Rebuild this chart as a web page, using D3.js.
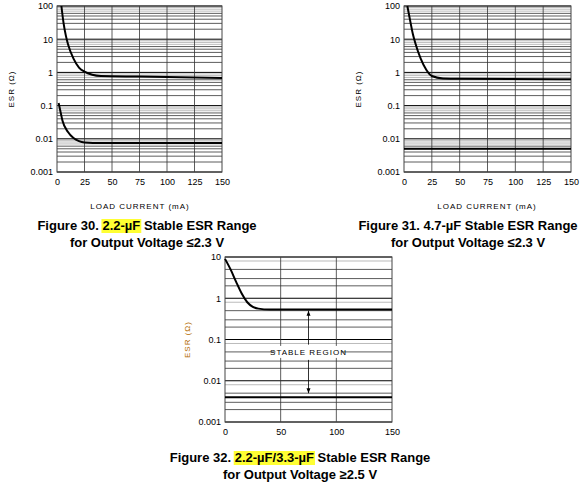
<!DOCTYPE html><html><head><meta charset="utf-8"><script src="https://cdn.jsdelivr.net/npm/d3@7"></script>
<style>body{margin:0;background:#fff}text{font-family:"Liberation Sans",Arial,sans-serif}</style></head><body><svg id="s" width="587" height="482"></svg><script>
const fig30Upper=[[4,100],[6,30],[8,13],[10,7],[15,2.6],[20,1.4],[25,1.05],[32,0.85],[40,0.78],[75,0.75],[150,0.68]];
const fig30Lower=[[1.5,0.12],[3,0.07],[5,0.035],[10,0.016],[15,0.0105],[20,0.0085],[25,0.0078],[40,0.0075],[150,0.0075]];
const fig31Upper=[[3,100],[6,30],[8,14],[10,8],[15,2.6],[20,1.2],[25,0.78],[35,0.66],[50,0.64],[150,0.62]];
const fig31Lower=[[0,0.005],[150,0.005]];
const fig32Upper=[[0,9],[5,5],[10,2.5],[15,1.3],[20,0.8],[25,0.62],[30,0.56],[40,0.53],[150,0.53]];
const fig32Lower=[[0,0.004],[150,0.004]];
const yTicks1=[100,10,1,0.1,0.01,0.001], xTicks1=[0,25,50,75,100,125,150];
const yTicks2=[10,1,0.1,0.01,0.001], xTicks2=[0,50,100,150];
const svg=d3.select("#s");
function chart(o){
 const x=d3.scaleLinear().domain([0,150]).range([o.x0,o.x1]);
 const y=d3.scaleLog().domain([0.001,o.ymax]).range([o.y1,o.y0]);
 const g=svg.append("g");
 const decs=[];for(let d=0.001;d<o.ymax*0.99;d*=10)decs.push(d);
 decs.forEach(d=>o.minor.forEach(m=>{const v=d*m;g.append("line").attr("x1",o.x0).attr("x2",o.x1).attr("y1",y(v)).attr("y2",y(v)).attr("stroke",m>=7?"#aaa":"#333").attr("stroke-width",0.8);}));
 o.yt.forEach(v=>g.append("line").attr("x1",o.x0).attr("x2",o.x1).attr("y1",y(v)).attr("y2",y(v)).attr("stroke","#000").attr("stroke-width",1));
 o.vgrid.forEach(v=>g.append("line").attr("x1",x(v)).attr("x2",x(v)).attr("y1",o.y0).attr("y2",o.y1).attr("stroke","#333").attr("stroke-width",0.8));
 g.append("rect").attr("x",o.x0).attr("y",o.y0).attr("width",o.x1-o.x0).attr("height",o.y1-o.y0).attr("fill","none").attr("stroke","#444");
 const ax=g.append("g").attr("transform",`translate(0,${o.y1})`).call(d3.axisBottom(x).tickValues(o.xt).tickSize(0).tickPadding(7).tickFormat(d3.format("d")));
 ax.select(".domain").remove();ax.selectAll("text").attr("font-size",9).attr("fill","#000");
 const ay=g.append("g").attr("transform",`translate(${o.x0},0)`).call(d3.axisLeft(y).tickValues(o.yt).tickSize(0).tickPadding(4).tickFormat(d=>d>=1?d3.format("d")(d):String(+d.toPrecision(1))));
 ay.select(".domain").remove();ay.selectAll("text").attr("font-size",9).attr("fill","#000");
 const line=d3.line().x(d=>x(d[0])).y(d=>y(d[1])).curve(d3.curveMonotoneX);
 o.curves.forEach(c=>g.append("path").attr("d",line(c)).attr("fill","none").attr("stroke","#000").attr("stroke-width",2));
 g.append("text").attr("transform",`translate(${o.ylx},${(o.y0+o.y1)/2}) rotate(-90)`).attr("text-anchor","middle").attr("font-size",8).attr("letter-spacing",1).attr("fill",o.ylc||"#000").text("ESR (Ω)");
 return {x,y,g};
}
chart({x0:57,x1:222,y0:6,y1:172,ymax:100,minor:[2,3,4,5,6,7,8,9],yt:yTicks1,xt:xTicks1,vgrid:[25,50,75,100,125],curves:[fig30Upper,fig30Lower],ylx:14});
chart({x0:404,x1:571,y0:6,y1:172,ymax:100,minor:[2,3,4,5,6,7,8,9],yt:yTicks1,xt:xTicks1,vgrid:[25,50,75,100,125],curves:[fig31Upper,fig31Lower],ylx:361});
const c3=chart({x0:225,x1:392,y0:257,y1:422,ymax:10,minor:[2,3,5,8],yt:yTicks2,xt:xTicks2,vgrid:[50,100],curves:[fig32Upper,fig32Lower],ylx:190,ylc:"#b36b00"});
// stable region
const xa=c3.x(75);
c3.g.append("rect").attr("x",xa-33).attr("y",c3.y(0.05)-6).attr("width",66).attr("height",12).attr("fill","#fff");
c3.g.append("text").attr("x",xa).attr("y",c3.y(0.05)+3).attr("text-anchor","middle").attr("font-size",8).attr("letter-spacing",1).text("STABLE REGION");
[[0.5,0.075],[0.005,0.032]].forEach(([tip,from])=>{c3.g.append("line").attr("x1",xa).attr("x2",xa).attr("y1",c3.y(from)).attr("y2",c3.y(tip)).attr("stroke","#000").attr("stroke-width",0.8);
 const ty=c3.y(tip),d=tip>0.05?5:-5;c3.g.append("path").attr("d",`M${xa},${ty}L${xa-2},${ty+d}L${xa+2},${ty+d}Z`).attr("fill","#000");});
[[140,"LOAD CURRENT (mA)"],[487,"LOAD CURRENT (mA)"]].forEach(([cx,t])=>svg.append("text").attr("x",cx).attr("y",209).attr("text-anchor","middle").attr("font-size",8).attr("letter-spacing",1).text(t));
function title(cx,y1,pre,hl,post,line2){
 const t=svg.append("text").attr("x",cx).attr("y",y1).attr("text-anchor","middle").attr("font-size",13).attr("font-weight","bold");
 t.append("tspan").text(pre);const h=t.append("tspan").attr("class","hl").text(hl);t.append("tspan").text(post);
 if(hl){const n=h.node();const b=n.getExtentOfChar?null:null;}
 svg.append("text").attr("x",cx).attr("y",y1+17).attr("text-anchor","middle").attr("font-size",13).attr("font-weight","bold").text(line2);
 if(hl){const n=h.node(),st=n.getStartPositionOfChar(0),en=n.getEndPositionOfChar(hl.length-1);
  svg.insert("rect",()=>t.node()).attr("x",st.x-1).attr("y",y1-11).attr("width",en.x-st.x+2).attr("height",14).attr("fill","#ffff33");}
}
title(147,230,"Figure 30. ","2.2-µF"," Stable ESR Range","for Output Voltage ≤2.3 V");
title(468,230,"Figure 31. 4.7-µF Stable ESR Range","","","for Output Voltage ≤2.3 V");
title(300,462,"Figure 32. ","2.2-µF/3.3-µF"," Stable ESR Range","for Output Voltage ≥2.5 V");
</script></body></html>
